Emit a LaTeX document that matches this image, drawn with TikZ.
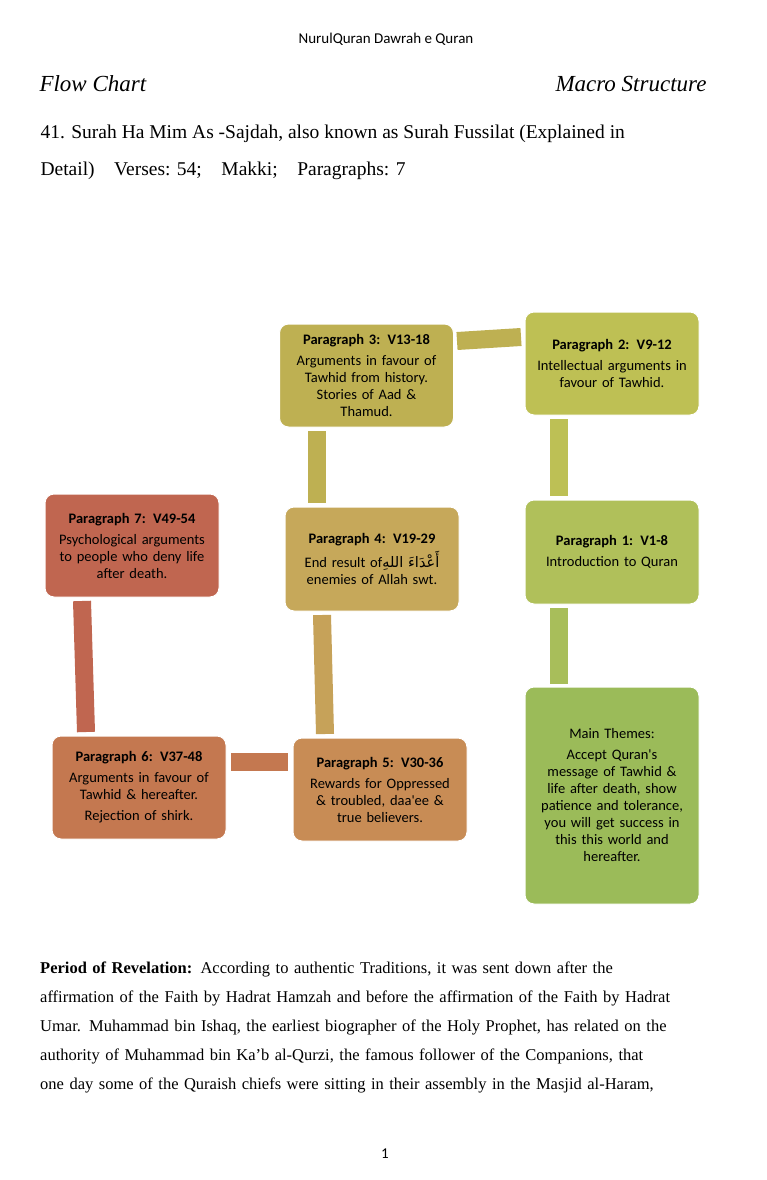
\documentclass[tikz,border=0pt]{standalone}
\usepackage{fontspec}
\setmainfont{Liberation Serif}
\newfontfamily\calfont{Carlito}
\newfontfamily\arabicfont[Script=Arabic]{DejaVu Sans}
\TeXXeTstate=1
\definecolor{cA}{RGB}{190,176,82}
\definecolor{cB}{RGB}{190,192,84}
\definecolor{cC}{RGB}{176,192,90}
\definecolor{cD}{RGB}{155,187,89}
\definecolor{cE}{RGB}{198,168,90}
\definecolor{cF}{RGB}{192,102,80}
\definecolor{cG}{RGB}{196,120,80}
\definecolor{cH}{RGB}{200,140,85}
\tikzset{box/.style={draw=white,line width=1pt,rounded corners=9pt,inner sep=4pt,text width=166pt,align=center,font=\calfont\fontsize{14.5}{17}\selectfont},
bar/.style={line width=18pt}}
\begin{document}
\begin{tikzpicture}[x=1pt,y=-1pt]
\useasboundingbox (0,0) rectangle (766,1180);
\node[font=\calfont\fontsize{15}{17}\selectfont] (hd) at (386,39) {NurulQuran Dawrah e Quran};
\node[anchor=west,font=\itshape\fontsize{23}{26}\selectfont] (fc) at (36,84) {Flow Chart};
\node[anchor=east,font=\itshape\fontsize{23}{26}\selectfont] (ms) at (710,84) {Macro Structure};
\node[anchor=west,font=\fontsize{19.5}{22}\selectfont] (t1) at (37,134) {41. Surah Ha Mim As -Sajdah, also known as Surah Fussilat (Explained in};
\node[anchor=west,font=\fontsize{19.5}{22}\selectfont] (t2) at (37,171) {Detail)\quad Verses: 54;\quad Makki;\quad Paragraphs: 7};

\draw[bar,cA] (457,341) -- (521,337);
\draw[bar,cB!90!cC] (559,419) -- (559,496);
\draw[bar,cA] (317,431) -- (317,503);
\draw[bar,cE!80!cH] (322,615) -- (325,734);
\draw[bar,cF] (82,601) -- (86,732);
\draw[bar,cG] (231,762) -- (288,762);
\draw[bar,cC!60!cD] (559,608) -- (559,684);

\node[box,fill=cA,minimum height=103pt] (p3) at (366.5,375.5) {\textbf{Paragraph 3: V13-18}\\[4pt]Arguments in favour of\\Tawhid from history.\\Stories of Aad \&\\Thamud.};
\node[box,fill=cB,minimum height=103pt] (p2) at (612,363.5) {\textbf{Paragraph 2: V9-12}\\[4pt]Intellectual arguments in\\favour of Tawhid.};
\node[box,fill=cC,minimum height=104pt] (p1) at (612,552) {\textbf{Paragraph 1: V1-8}\\[4pt]Introduction to Quran};
\node[box,fill=cD,minimum height=217pt] (mt) at (612,795.5) {Main Themes:\\[4pt]Accept Quran's\\message of Tawhid \&\\life after death, show\\patience and tolerance,\\you will get success in\\this this world and\\hereafter.};
\node[box,fill=cE,minimum height=104pt] (p4) at (372,559) {\textbf{Paragraph 4: V19-29}\\[4pt]End result of{\arabicfont\beginR أَعْدَاءَ اللهِ\endR}\\enemies of Allah swt.};
\node[box,fill=cF,minimum height=103pt] (p7) at (132,545.5) {\textbf{Paragraph 7: V49-54}\\[4pt]Psychological arguments\\to people who deny life\\after death.};
\node[box,fill=cG,minimum height=103pt] (p6) at (139,787.5) {\textbf{Paragraph 6: V37-48}\\[4pt]Arguments in favour of\\Tawhid \& hereafter.\\[4pt]Rejection of shirk.};
\node[box,fill=cH,minimum height=103pt] (p5) at (380,789.5) {\textbf{Paragraph 5: V30-36}\\[4pt]Rewards for Oppressed\\\& troubled, daa'ee \&\\true believers.};

\node[anchor=north west,text width=710pt,align=left,inner sep=0pt,font=\fontsize{16.5}{29}\selectfont] (pr) at (40,962) {\textbf{Period of Revelation:} According to authentic Traditions, it was sent down after the\\affirmation of the Faith by Hadrat Hamzah and before the affirmation of the Faith by Hadrat\\Umar. Muhammad bin Ishaq, the earliest biographer of the Holy Prophet, has related on the\\authority of Muhammad bin Ka'b al-Qurzi, the famous follower of the Companions, that\\one day some of the Quraish chiefs were sitting in their assembly in the Masjid al-Haram,};
\node[font=\calfont\fontsize{15}{17}\selectfont] (pg) at (385,1154) {1};
\end{tikzpicture}
\end{document}
